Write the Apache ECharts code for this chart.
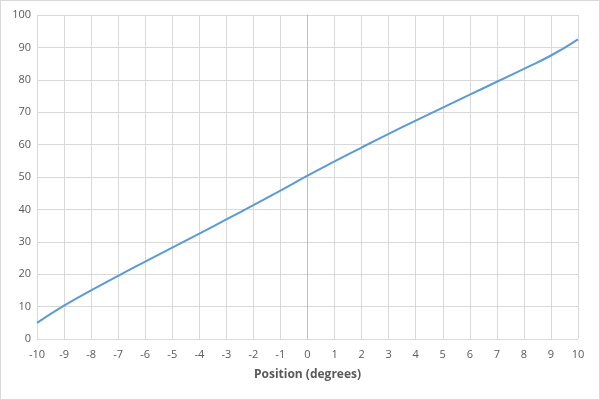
<!DOCTYPE html>
<html>
<head>
<meta charset="utf-8">
<script src="https://cdn.jsdelivr.net/npm/echarts@6/dist/echarts.min.js"></script>
<style>
  html, body { margin: 0; padding: 0; background: #fff; }
  #chart { width: 598px; height: 398px; border: 1px solid #d9d9d9; }
</style>
</head>
<body>
<div id="chart"></div>
<script>
// position (degrees) vs output (%)
var positions = [-10, -9, -8, -7, -6, -5, -4, -3, -2, -1, 0, 1, 2, 3, 4, 5, 6, 7, 8, 9, 10];
var outputs = [5, 10.3, 15, 19.5, 23.9, 28.2, 32.5, 36.9, 41.3, 45.8, 50.4, 54.8, 59.1, 63.3, 67.4, 71.4, 75.4, 79.4, 83.4, 87.5, 92.5];

var chart = echarts.init(document.getElementById('chart'));
var font = '"Open Sans", "DejaVu Sans", sans-serif';

chart.setOption({
    animation: false,
    grid: { left: 36, right: 21, top: 14, bottom: 60, containLabel: false, outerBoundsMode: 'none' },
    xAxis: {
        type: 'value',
        min: -10, max: 10, interval: 1,
        name: 'Position (degrees)',
        nameLocation: 'middle',
        nameGap: 30,
        nameTextStyle: { color: '#595959', fontSize: 12, fontWeight: 'bold', fontFamily: font },
        axisLine: { show: false },
        axisTick: { show: false },
        axisLabel: { color: '#595959', fontSize: 11, fontFamily: font, margin: 10 },
        splitLine: { lineStyle: { color: '#d9d9d9' } }
    },
    yAxis: {
        type: 'value',
        min: 0, max: 100, interval: 10,
        name: 'Output (%)',
        nameLocation: 'middle',
        nameGap: 278,
        nameTextStyle: { color: '#595959', fontSize: 12, fontWeight: 'bold', fontFamily: font },
        axisLine: { show: true, onZero: true, lineStyle: { color: '#bfbfbf' } },
        axisTick: { show: false },
        axisLabel: { color: '#595959', fontSize: 11, fontFamily: font, margin: 6 },
        splitLine: { lineStyle: { color: '#d9d9d9' } }
    },
    series: [{
        type: 'line',
        smooth: true,
        showSymbol: false,
        data: positions.map(function (p, i) { return [p, outputs[i]]; }),
        lineStyle: { color: '#5b9bd5', width: 2 }
    }]
});
</script>
</body>
</html>
